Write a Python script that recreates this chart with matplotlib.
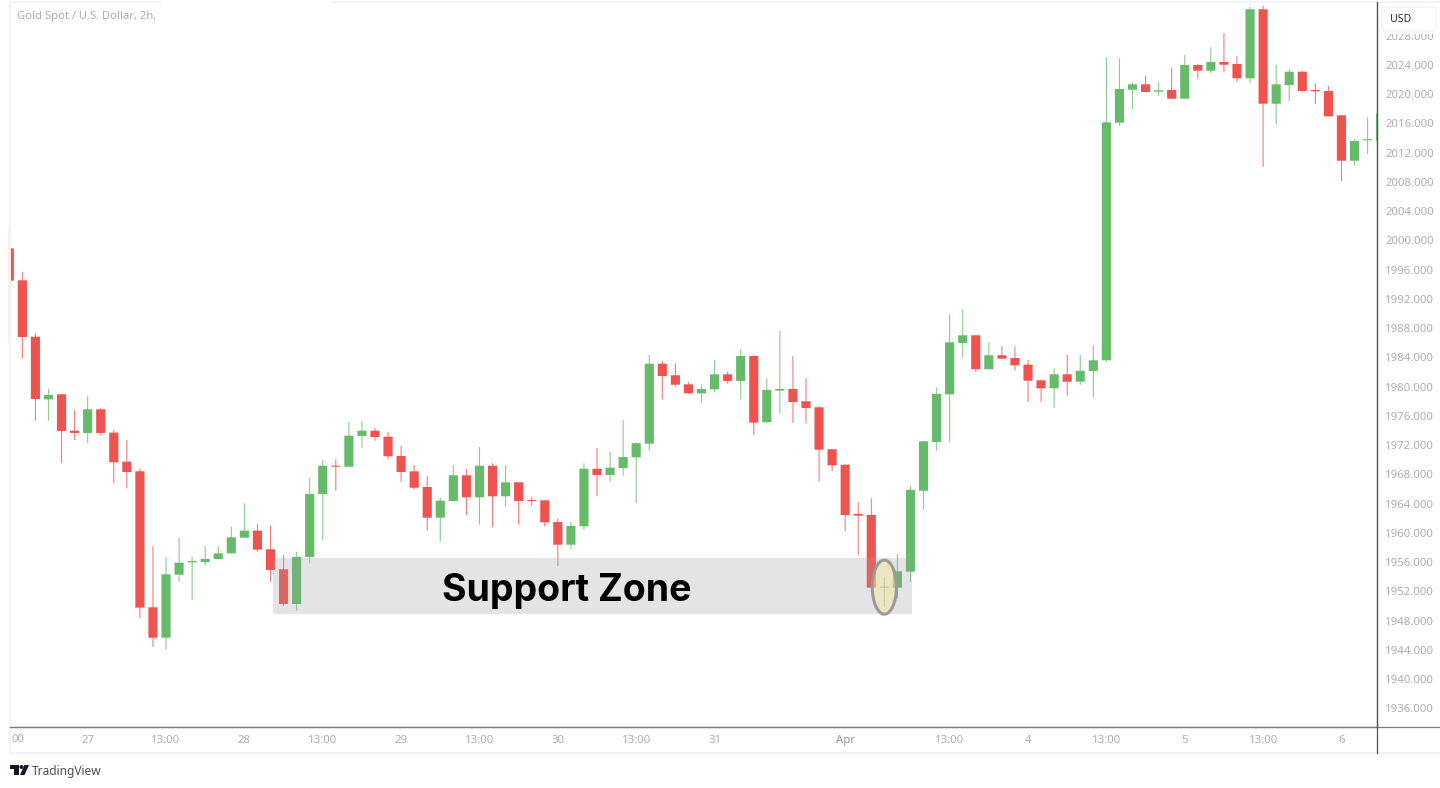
import matplotlib
matplotlib.use("Agg")
import matplotlib.pyplot as plt
from matplotlib.lines import Line2D
from matplotlib.patches import Circle, Ellipse, FancyBboxPatch, Polygon, Rectangle

# Gold spot 2h candles
opens = [
    1998.93, 1994.56, 1986.84, 1978.28, 1978.97, 1973.99, 1973.68, 1976.92, 1973.72, 1969.75,
    1968.44, 1949.84, 1945.68, 1954.30, 1955.99, 1956.03, 1956.44, 1957.22, 1959.36, 1960.32,
    1957.77, 1955.04, 1950.29, 1956.72, 1965.33, 1969.20, 1969.07, 1973.27, 1973.99, 1973.17,
    1970.53, 1968.44, 1966.29, 1962.09, 1964.38, 1967.89, 1964.88, 1969.20, 1965.02, 1966.93,
    1964.51, 1964.47, 1961.50, 1958.40, 1960.92, 1968.79, 1967.93, 1968.89, 1970.35, 1972.21,
    1983.15, 1981.57, 1980.33, 1979.10, 1979.65, 1981.70, 1980.79, 1984.21, 1975.14, 1979.46,
    1979.69, 1978.01, 1977.19, 1971.45, 1969.34, 1962.60, 1962.46, 1952.52, 1952.52, 1954.71,
    1965.78, 1972.44, 1978.97, 1985.98, 1987.04, 1982.39, 1984.30, 1983.93, 1983.02, 1980.88,
    1979.79, 1981.70, 1980.69, 1982.15, 1983.62, 2016.11, 2020.62, 2021.36, 2020.35, 2020.58,
    2019.39, 2024.00, 2023.22, 2024.41, 2024.14, 2022.18, 2031.62, 2018.71, 2021.26, 2023.08,
    2020.58, 2020.44, 2017.12, 2010.91, 2013.70, 2013.65,
]
highs = [
    2001.89, 1995.73, 1987.31, 1979.69, 1978.97, 1976.82, 1978.78, 1977.05, 1974.09, 1972.72,
    1968.85, 1958.22, 1956.76, 1959.41, 1956.76, 1958.22, 1958.22, 1960.86, 1964.06, 1961.23,
    1961.00, 1956.99, 1957.44, 1967.48, 1970.08, 1970.08, 1975.18, 1975.32, 1974.40, 1973.85,
    1971.90, 1969.30, 1967.80, 1964.83, 1969.30, 1968.75, 1971.76, 1969.53, 1969.30, 1966.93,
    1964.96, 1964.47, 1962.01, 1961.50, 1969.53, 1971.62, 1971.08, 1975.45, 1972.40, 1984.34,
    1983.56, 1983.21, 1980.65, 1980.20, 1983.66, 1982.06, 1985.16, 1984.34, 1981.16, 1987.67,
    1984.21, 1981.16, 1977.37, 1971.45, 1969.39, 1964.20, 1964.75, 1953.94, 1957.13, 1966.43,
    1972.54, 1979.92, 1989.95, 1990.59, 1987.04, 1986.08, 1985.53, 1985.53, 1983.66, 1980.88,
    1982.52, 1984.34, 1984.34, 1985.67, 2025.05, 2024.92, 2021.58, 2022.50, 2021.63, 2023.59,
    2025.37, 2024.14, 2026.42, 2028.38, 2025.23, 2031.97, 2032.11, 2024.00, 2023.36, 2023.22,
    2021.50, 2021.13, 2017.12, 2013.88, 2016.85, 2017.39,
]
lows = [
    1986.02, 1983.89, 1975.36, 1975.36, 1969.53, 1972.72, 1972.27, 1973.36, 1966.80, 1966.11,
    1948.34, 1944.45, 1944.10, 1953.34, 1950.84, 1955.62, 1956.44, 1957.22, 1959.28, 1957.44,
    1953.34, 1950.06, 1949.37, 1955.86, 1959.04, 1965.78, 1969.07, 1971.67, 1972.62, 1970.08,
    1967.02, 1965.98, 1960.32, 1958.81, 1964.38, 1962.46, 1961.14, 1960.78, 1963.60, 1961.14,
    1963.73, 1960.86, 1955.49, 1957.77, 1960.41, 1965.02, 1967.02, 1967.84, 1964.10, 1971.25,
    1978.28, 1980.01, 1979.10, 1977.82, 1979.24, 1980.42, 1978.28, 1973.36, 1975.08, 1976.31,
    1975.08, 1974.95, 1967.02, 1968.48, 1960.23, 1956.95, 1952.52, 1949.92, 1951.02, 1953.34,
    1963.15, 1971.25, 1972.49, 1983.97, 1982.02, 1982.39, 1983.84, 1982.25, 1977.91, 1977.91,
    1977.09, 1978.78, 1980.24, 1978.56, 1983.43, 2015.70, 2017.98, 2020.27, 2019.76, 2019.39,
    2019.39, 2022.04, 2022.86, 2023.00, 2021.68, 2021.54, 2010.09, 2015.93, 2019.08, 2020.35,
    2018.67, 2016.98, 2008.14, 2010.23, 2011.83, 2013.65,
]
closes = [
    1994.50, 1986.80, 1978.32, 1978.87, 1973.95, 1973.68, 1976.92, 1973.68, 1969.67, 1968.34,
    1949.79, 1945.68, 1954.35, 1955.94, 1956.17, 1956.44, 1957.22, 1959.41, 1960.32, 1957.72,
    1954.94, 1950.29, 1956.72, 1965.33, 1969.20, 1969.07, 1973.31, 1973.99, 1973.13, 1970.49,
    1968.34, 1966.19, 1962.09, 1964.42, 1967.89, 1964.88, 1969.20, 1965.02, 1966.93, 1964.38,
    1964.38, 1961.46, 1958.40, 1960.96, 1968.79, 1967.93, 1968.93, 1970.39, 1972.27, 1983.15,
    1981.47, 1980.28, 1979.10, 1979.69, 1981.70, 1980.79, 1984.21, 1975.08, 1979.56, 1979.69,
    1977.91, 1977.09, 1971.39, 1969.26, 1962.46, 1962.37, 1952.52, 1952.62, 1954.76, 1965.88,
    1972.54, 1979.01, 1986.08, 1987.04, 1982.39, 1984.30, 1983.84, 1982.93, 1980.83, 1979.79,
    1981.70, 1980.69, 1982.19, 1983.62, 2016.16, 2020.72, 2021.36, 2020.31, 2020.54, 2019.39,
    2024.00, 2023.22, 2024.41, 2024.04, 2022.18, 2031.62, 2018.71, 2021.36, 2023.08, 2020.44,
    2020.40, 2016.98, 2010.91, 2013.61, 2013.84, 2017.39,
]

price_ticks = list(range(1936, 2032, 4))
time_pos = [6, 12, 18, 24, 30, 36, 42, 48, 54, 64, 72, 78, 84, 90, 96, 102]
time_labels = ["27", "13:00", "28", "13:00", "29", "13:00", "30", "13:00", "31",
               "Apr", "13:00", "4", "13:00", "5", "13:00", "6"]

zone_low, zone_high = 1948.9, 1956.6
doji_index = 67

UP = "#66BB6A"
DOWN = "#EF5350"
MUTED = "#ABAEB7"
FRAME = "#F0F3FA"
AXIS = "#787B86"
W, H = 1440, 788

plt.rcParams["font.family"] = ["Noto Sans", "DejaVu Sans"]

fig = plt.figure(figsize=(W / 100, H / 100), dpi=100, facecolor="white")
ax = fig.add_axes([10 / W, 1 - 727 / H, 1367 / W, 725 / H])


def px(x, y):
    return (x / W, 1 - y / H)


# candles
xs = list(range(len(opens)))
colors = [UP if c >= o else DOWN for o, c in zip(opens, closes)]
wicks = ax.vlines(xs, lows, highs, colors=colors, linewidth=0.8, alpha=0.75, zorder=2)
wicks.set_snap(False)
bodies = ax.bar(xs, [max(abs(c - o), 0.15) for o, c in zip(opens, closes)],
                bottom=[min(o, c) for o, c in zip(opens, closes)],
                width=0.7, color=colors, linewidth=0, zorder=3)
for body in bodies:
    body.set_snap(False)

ax.set_xlim(0.054, 104.72)
ax.set_ylim(1933.47, 2032.615)

# first candle's wick sits right on the left edge
ax.vlines(xs[:1], lows[:1], highs[:1], colors=DOWN, linewidth=1.0, alpha=0.45,
          zorder=2, clip_on=False)

# support zone and the doji marker on top of the candles
ax.add_patch(Rectangle((20.2, zone_low), 48.9, zone_high - zone_low,
                       facecolor="#9A9A9F", alpha=0.26, linewidth=0, zorder=4))
ax.text(42.65, 1952.05, "Support Zone", ha="center", va="center", color="black",
        fontsize=27, fontweight="bold", family="Inter", zorder=5)
ax.add_patch(Ellipse((doji_index, 1952.6), 1.85, 7.4, facecolor=(0.96, 0.9, 0.62, 0.5),
                     edgecolor="#9A9A98", linewidth=2.2, zorder=6))

# axes
ax.yaxis.tick_right()
ax.set_yticks(price_ticks, [f"{p}.000" for p in price_ticks])
ax.set_xticks(time_pos, time_labels)
ax.tick_params(axis="both", length=0, labelcolor=MUTED, labelsize=8.2)
ax.tick_params(axis="y", pad=6)
ax.tick_params(axis="x", pad=6)
for label in ax.get_yticklabels():
    label.set_va("center_baseline")
for label in ax.get_xticklabels():
    if label.get_text() == "Apr":
        label.set_color("#9598A1")
        label.set_fontweight("bold")
for side in ["top", "left"]:
    ax.spines[side].set_visible(False)
for side in ["right", "bottom"]:
    ax.spines[side].set_color(AXIS)
    ax.spines[side].set_linewidth(0.9)

# what is left of the label cut off at the left edge of the time scale
fig.text(*px(11, 739), "00", ha="left", va="center", color=MUTED, fontsize=8.2)

# frame of the widget
for x0, y0, x1, y1 in [(10, 2, 160, 2), (333, 2, 1440, 2), (10, 2, 10, 753), (10, 753, 1440, 753)]:
    fig.add_artist(Line2D([x0 / W, x1 / W], [1 - y0 / H, 1 - y1 / H], color=FRAME, linewidth=1.4))
fig.add_artist(Line2D([10 / W, 1440 / W], [1 - 727 / H, 1 - 727 / H], color=AXIS, linewidth=0.9))
fig.add_artist(Line2D([1377 / W, 1377 / W], [1 - 2 / H, 1 - 753 / H], color="#50535E", linewidth=0.9))

fig.text(*px(17, 17), "Gold Spot / U.S. Dollar, 2h,", ha="left", va="center", color=MUTED, fontsize=8.1)

# USD button covers the top of the price scale
fig.add_artist(Rectangle(px(1379, 33.5), 61 / W, 29 / H, transform=fig.transFigure,
                         facecolor="white", edgecolor="none", zorder=9))
fig.add_artist(FancyBboxPatch(px(1382, 31), 54 / W, 24 / H, boxstyle="round,pad=0,rounding_size=0.003",
                              transform=fig.transFigure, facecolor="white", edgecolor=FRAME,
                              linewidth=1.2, zorder=10))
fig.text(*px(1390, 19), "USD", ha="left", va="center", color="#2A2E39", fontsize=7.6, zorder=11)

# TradingView logo
logo = [
    [(10, 765), (19, 765), (19, 775), (14, 775), (14, 769), (10, 769)],
    [(24.5, 765), (29, 765), (24.5, 775), (20, 775)],
]
for pts in logo:
    fig.add_artist(Polygon([px(*p) for p in pts], transform=fig.transFigure,
                           facecolor="#131722", edgecolor="none"))
fig.add_artist(Ellipse(px(21.5, 767), 4 / W, 4 / H, transform=fig.transFigure,
                       facecolor="#131722", edgecolor="none"))
fig.text(*px(32, 771), "TradingView", ha="left", va="center", color="#4A4E59", fontsize=8.6)

fig.savefig("out.png", dpi=100)
